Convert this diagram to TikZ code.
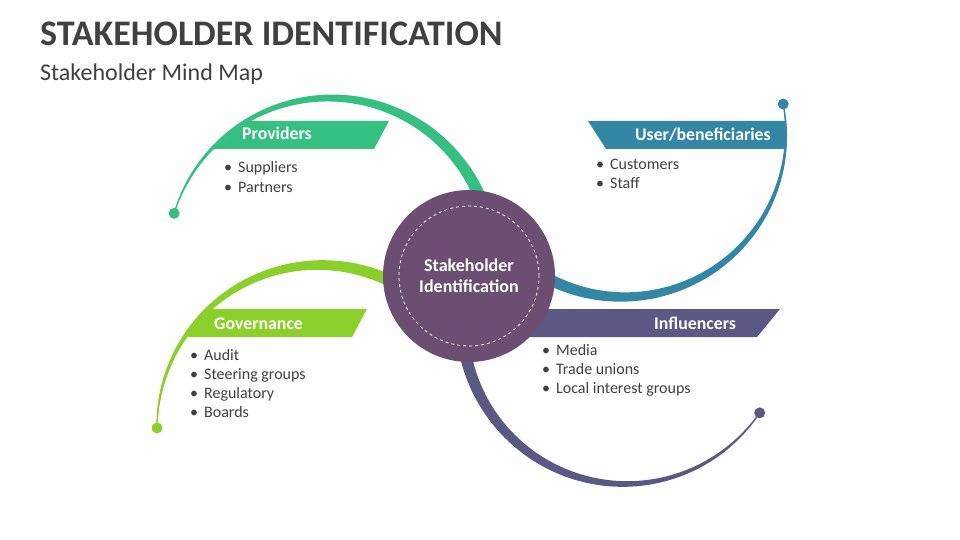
\documentclass[tikz,border=0pt]{standalone}
\usepackage{fontspec}
\setmainfont{Carlito}
\usepackage{tikz}
\definecolor{inkgray}{HTML}{404040}
\definecolor{provgreen}{HTML}{35BF81}
\definecolor{userteal}{HTML}{3486A5}
\definecolor{govlime}{HTML}{8ACF2A}
\definecolor{inflslate}{HTML}{5A5983}
\definecolor{hubpurple}{HTML}{6C4E72}

% tapered arc of radius 163 round #2, thin at #3, thick at #4
\newcommand\taperarc[4]{%
  \fill[#1, shift={(#2)}] plot[domain=#3:#4, samples=80] (\x:{163+0.6+5.6*(\x-(#3))/((#4)-(#3))})
    -- plot[domain=#4:#3, samples=80] (\x:{163-0.6-5.6*(\x-(#3))/((#4)-(#3))}) -- cycle;}

\begin{document}
\begin{tikzpicture}[x=1pt, y=-1pt,
	dot/.style={circle, inner sep=0pt, minimum size=11pt},
	hub/.style={circle, fill=hubpurple, minimum size=172pt, align=center, text=white,
		font=\bfseries\fontsize{18}{21}\selectfont},
	bannertext/.style={inner sep=0pt, text=white, font=\bfseries\fontsize{17.8}{20}\selectfont},
	items/.style={anchor=base west, inner sep=0pt, align=left, text=inkgray, font=\fontsize{16}{19}\selectfont}]
	\useasboundingbox (0,0) rectangle (960,540);

	\node[anchor=base west, inner sep=0pt, text=inkgray, font=\bfseries\fontsize{36}{40}\selectfont] (title) at (40,46) {STAKEHOLDER IDENTIFICATION};
	\node[anchor=base west, inner sep=0pt, text=inkgray, font=\fontsize{24}{28}\selectfont] (subtitle) at (40,81) {Stakeholder Mind Map};

	% arcs
	\taperarc{provgreen}{330,261}{-163}{-20}
	\taperarc{userteal}{623,134}{-10.6}{128}
	\taperarc{govlime}{320,428}{180}{300}
	\taperarc{inflslate}{625,321}{34.3}{175}

	\node[dot, fill=provgreen] (provdot) at ([shift={(330,261)}]-163:163) {};
	\node[dot, fill=userteal] (userdot) at ([shift={(623,134)}]-10.6:163) {};
	\node[dot, fill=govlime] (govdot) at ([shift={(320,428)}]180:163) {};
	\node[dot, fill=inflslate] (infldot) at ([shift={(625,321)}]34.3:163) {};

	% banners
	\fill[provgreen] (247,121) -- (389,121) -- (374,149) -- (212,149) -- cycle;
	\fill[userteal] (588,121) -- (786,121) -- (786,149) -- (606,149) -- cycle;
	\fill[govlime] (209,309) -- (367,309) -- (352,337) -- (185,337) -- cycle;
	\fill[inflslate] (500,309) -- (780,309) -- (757,337) -- (500,337) -- cycle;

	\node[hub] (hub) at (469,276) {Stakeholder\\Identification};
	\node[circle, draw=white, dashed, line width=0.8pt, minimum size=140pt] (ring) at (hub.center) {};

	\node[bannertext, anchor=base west] (prov) at (242,140) {Providers};
	\node[bannertext, anchor=base east] (user) at (771,141) {User/beneficiaries};
	\node[bannertext, anchor=base west] (gov) at (214,329) {Governance};
	\node[bannertext, anchor=base west] (infl) at (654,329) {Influencers};

	\node[items] (provlist) at (224,192) {\textbullet\hspace{6pt}Suppliers\\\textbullet\hspace{6pt}Partners};
	\node[items] (userlist) at (596,189) {\textbullet\hspace{6pt}Customers\\\textbullet\hspace{6pt}Staff};
	\node[items] (govlist) at (190,417) {\textbullet\hspace{6pt}Audit\\\textbullet\hspace{6pt}Steering groups\\\textbullet\hspace{6pt}Regulatory\\\textbullet\hspace{6pt}Boards};
	\node[items] (infllist) at (542,393) {\textbullet\hspace{6pt}Media\\\textbullet\hspace{6pt}Trade unions\\\textbullet\hspace{6pt}Local interest groups};
\end{tikzpicture}
\end{document}
